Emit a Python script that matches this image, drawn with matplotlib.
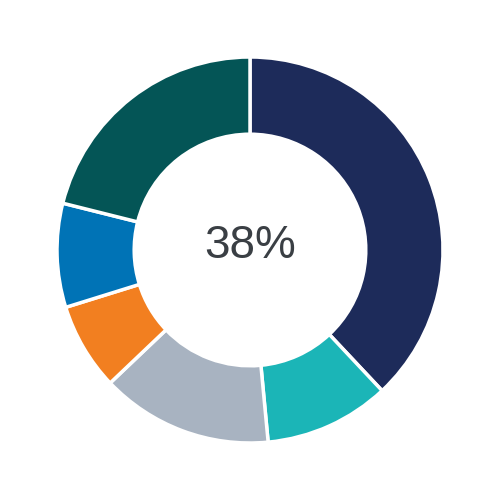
import matplotlib
matplotlib.use("Agg")
import matplotlib.pyplot as plt

# segments, clockwise from 12 o'clock
labels = ["Navy", "Teal", "Gray", "Orange", "Blue", "Dark green"]
values = [38, 10.5, 14.4, 7.3, 8.7, 21.1]
colors = ["#1d2b5a", "#1bb5b7", "#a8b3c1", "#f27f20", "#0073b6", "#045556"]
center_text = "38%"

fig = plt.figure(figsize=(5, 5), dpi=100)
ax = fig.add_axes([0, 0, 1, 1])
ax.pie(values, colors=colors, startangle=90, counterclock=False,
       wedgeprops=dict(width=0.4, edgecolor="white", linewidth=2.5))
ax.text(0, 0.02, center_text, ha="center", va="center", fontsize=33,
        color="#3a3f44", family="Liberation Sans")
lim = 250 / 193
ax.set_xlim(-lim, lim)
ax.set_ylim(-lim, lim)
ax.set_aspect("equal")
ax.axis("off")

fig.savefig("out.png", dpi=100, facecolor="white")
